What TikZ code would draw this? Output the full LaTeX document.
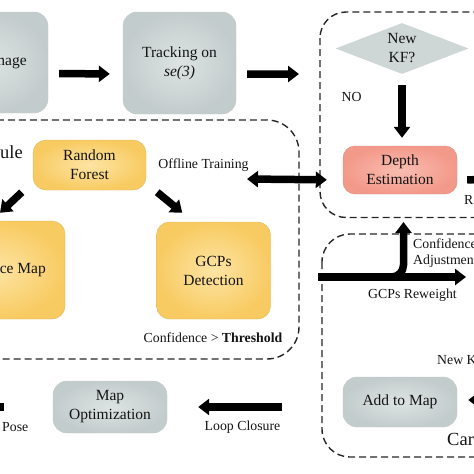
\documentclass[tikz,border=0pt]{standalone}
\usepackage{fontspec}
\setmainfont{Liberation Serif}
\usetikzlibrary{shapes.geometric}
\usetikzlibrary{positioning}
\usetikzlibrary{arrows.meta}
\definecolor{boxgray}{HTML}{C3CCCC}
\definecolor{boxgrayin}{HTML}{DDE3E3}
\definecolor{boxyellow}{HTML}{F8CB62}
\definecolor{boxyellowin}{HTML}{FDE4A4}
\definecolor{boxred}{HTML}{F3998A}
\definecolor{boxredin}{HTML}{F9BDB1}
\newcommand{\boxfont}{\fontsize{15.5}{19}\selectfont}
\newcommand{\lblfont}{\fontsize{13.8}{15.5}\selectfont}
\newcommand{\ttlfont}{\fontsize{18.5}{22}\selectfont}
\tikzset{
    mynodeg/.style = {rectangle, rounded corners=14pt, draw=boxgray!80!black!60, inner color=boxgrayin, outer color=boxgray, align=center, font=\boxfont, text=black!92},
    mynodey/.style = {rectangle, rounded corners=13pt, draw=boxyellow!90!black, inner color=boxyellowin, outer color=boxyellow, align=center, font=\boxfont, text=black!92},
    mynoder/.style = {rectangle, rounded corners=12pt, draw=boxred!90!black, inner color=boxredin, outer color=boxred, align=center, font=\boxfont, text=black!92},
    mynoded/.style = {diamond, aspect=2.6, inner sep=0pt, fill=boxgray!80!white, align=center, font=\boxfont, text=black!92},
    lbl/.style = {align=center, inner sep=0pt, font=\lblfont, text=black!92},
    ttl/.style = {inner sep=0pt, font=\ttlfont, text=black!92},
    edgen/.style = {-{Triangle[length=11pt,width=16pt]}, line width=7.5pt},
    edgenb/.style = {{Triangle[length=11pt,width=16pt]}-{Triangle[length=11pt,width=16pt]}, line width=7.5pt},
    region/.style = {line width=1.4pt, dash pattern=on 7pt off 4pt, black!85},
}

\begin{document}
\begin{tikzpicture}[x=10pt, y=-10pt]
\useasboundingbox (0,0) rectangle (47.4,47.4);
\clip (0,0) rectangle (47.4,47.4);
% dashed regions
\draw[region, rounded corners=26pt] (32.0,1.2) rectangle (56.0,21.75);
\draw[region, rounded corners=32pt] (-20.0,12.0) rectangle (29.9,35.9);
\draw[region, rounded corners=28pt] (32.2,23.4) rectangle (56.0,45.7);
%
\node[mynodeg, minimum width=118pt, minimum height=101pt] at (-1.1, 6.25) (img) {Input Image};
\node[mynodeg, minimum width=113pt, minimum height=102pt] at (17.95, 6.3) (track) {Tracking on\\\textit{se(3)}};
\node[mynoded, minimum width=133pt, minimum height=51pt] at (40.2, 4.85) (kf) {New\\KF?};
\node[mynoder, minimum width=114pt, minimum height=48pt] at (40.0, 17.0) (depth) {Depth\\Estimation};
\node[mynodey, minimum width=113pt, minimum height=50pt] at (8.95, 16.5) (rf) {Random\\Forest};
\node[mynodey, minimum width=142pt, minimum height=98pt] at (-0.6, 27.0) (conf) {Confidence Map};
\node[mynodey, minimum width=114pt, minimum height=97pt] at (21.35, 27.05) (gcps) {GCPs\\Detection};
\node[mynodeg, minimum width=114pt, minimum height=52pt] at (11.0, 40.7) (mapopt) {Map\\Optimization};
\node[mynodeg, minimum width=114pt, minimum height=50pt] at (40.0, 40.2) (add) {Add to Map};
%
\node[ttl, anchor=east] at (2.3, 15.2) (module) {Module};
\node[ttl, anchor=west] at (44.7, 43.9) (car) {Car};
\node[lbl] at (35.15, 9.7) (no) {NO};
\node[lbl] at (20.35, 16.5) (offline) {Offline Training};
\node[lbl] at (21.3, 33.8) (thr) {Confidence > \textbf{Threshold}};
\node[lbl, anchor=west, align=left] at (41.3, 25.3) (adj) {Confidence\\Adjustment};
\node[lbl] at (41.25, 29.5) (rew) {GCPs Reweight};
\node[lbl, anchor=west] at (43.7, 36.0) (newkf) {New KF};
\node[lbl] at (24.25, 42.7) (loop) {Loop Closure};
\node[lbl, anchor=west] at (0.2, 42.7) (pose) {Pose};
\node[lbl, anchor=west] at (46.4, 20.0) (r) {R};
%
\coordinate (kfin) at (29.9, 7.4);
\coordinate (depthout) at (52.0, 17.9);
\coordinate (train) at (24.7, 17.9);
\coordinate (rwin) at (31.8, 27.7);
\coordinate (rwout) at (46.6, 27.7);
\coordinate (adjtip) at (40.35, 22.2);
\coordinate (addin) at (52.0, 40.0);
\coordinate (loopin) at (28.2, 40.7);
\coordinate (poseout) at (-4.0, 0);
%
\draw[edgen, shorten <=11pt, shorten >=13pt] ([yshift=-11pt]img.east) -- ([yshift=-11pt]track.west);
\draw[edgen, shorten <=11pt] ([yshift=-11pt]track.east) -- (kfin);
\draw[edgen, shorten <=11pt, shorten >=8pt] (kf.south) -- (kf.south |- depth.north);
\draw[edgen, shorten <=10pt] ([yshift=-10pt]depth.east) -- (depthout);
\draw[edgenb, shorten >=16pt] (train) -- ([yshift=-10pt]depth.west);
\draw[edgen] ([xshift=-11pt,yshift=-2pt]rf.south west) -- ([xshift=6pt,yshift=8pt]conf.north);
\draw[edgen] ([xshift=11pt,yshift=-2pt]rf.south east) -- ([xshift=26pt,yshift=9pt]gcps.north west);
\draw[edgen] (rwin) -- (rwout);
\draw[edgen, rounded corners=12pt] (rwin) -| (adjtip);
\draw[edgen, shorten >=11pt] (addin) -- (add.east |- addin);
\draw[edgen, shorten >=31pt] (loopin) -- (mapopt.east);
\draw[edgen, shorten <=49pt] (mapopt.west) -- (mapopt.west -| poseout);
\end{tikzpicture}
\end{document}
